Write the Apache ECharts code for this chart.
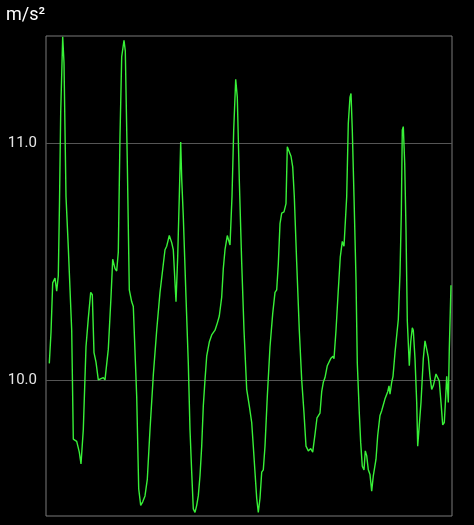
<!DOCTYPE html>
<html>
<head>
<meta charset="utf-8">
<style>
html,body{margin:0;padding:0;background:#000;}
#chart{width:474px;height:525px;}
</style>
<script src="https://cdn.jsdelivr.net/npm/echarts@6/dist/echarts.min.js"></script>
</head>
<body>
<div id="chart"></div>
<script>
// time offsets (arbitrary sample units) and acceleration magnitude (m/s²)
const time = [3.3,5,6.7,9,10.7,12.3,13.5,14.7,16.7,18,20,22.3,25.7,27.3,30.7,33.3,35,37.3,40,42.3,44.7,46.3,48,50,52.3,54,57.3,59,62.3,65,66.7,69,70.7,72.3,74,75.7,78,79.3,81.3,83.3,85.7,87.3,90.7,92.7,94.7,96.7,99,101.3,104,107.3,110.7,114,119,120.7,123.3,125.7,127.3,130,131.7,133.3,134.7,135.7,137.3,140,142.3,144,145.7,147.3,149,150.7,152.3,154,155.7,157.3,159,160.7,163.3,165.7,167.3,169,171.3,173.3,175.7,177.3,179,181.3,183,184,186,187.7,189.7,191.3,193.3,195.7,198,200.7,203.3,205.7,207.3,209,210.7,212.3,214,215.7,217.3,219,221.3,224,226.7,229,230.7,232.3,234,235.7,238,240,241.3,243,245,246.7,248.3,250.7,253.3,255.7,258,260,262.3,264.7,266.7,269,271,274,275.7,277.3,279,281.3,284.7,287,288,290,292.3,294.3,296.3,298,299.3,300.7,302.3,304,305,306.3,308,310,311.3,313.3,314.7,316.3,318,319.3,320.7,322.3,324,325.7,327.3,330,331.7,334,335.7,337,339,341.7,343,344,345.7,347,349,352.3,354,355.3,356.3,357.3,358.7,360,361.3,363.3,364.7,366.3,367.3,369,370.7,371.7,373.3,375,377.3,379,380.7,382.3,384,385.7,387.3,390,391.3,393.3,395,396.7,398.3,399.7,400.7,401.7,402.3,403.3,405];
const accel = [10.07,10.2,10.41,10.43,10.375,10.44,10.75,11.13,11.45,11.34,10.775,10.56,10.21,9.75,9.74,9.695,9.645,9.79,10.14,10.26,10.37,10.36,10.115,10.075,10.0,9.995,10.01,10.0,10.13,10.35,10.51,10.47,10.46,10.54,11.03,11.365,11.435,11.39,10.92,10.38,10.33,10.31,9.93,9.54,9.47,9.485,9.51,9.58,9.79,10.02,10.21,10.37,10.55,10.565,10.61,10.58,10.55,10.33,10.52,10.775,11.005,10.85,10.69,10.35,10.07,9.79,9.61,9.455,9.44,9.47,9.51,9.595,9.72,9.89,10.0,10.1,10.16,10.19,10.185,10.21,10.24,10.27,10.35,10.47,10.55,10.61,10.585,10.57,10.775,11.056,11.27,11.195,10.845,10.495,10.21,9.96,9.89,9.82,9.72,9.61,9.5,9.44,9.5,9.61,9.62,9.72,9.93,10.14,10.28,10.37,10.38,10.49,10.66,10.705,10.71,10.745,10.985,10.98,10.945,10.9,10.775,10.495,10.21,10.0,9.86,9.72,9.7,9.71,9.695,9.77,9.84,9.86,9.95,9.99,10.01,10.06,10.09,10.1,10.09,10.21,10.38,10.52,10.585,10.565,10.56,10.775,11.084,11.195,11.21,11.055,10.775,10.425,10.07,9.86,9.735,9.635,9.62,9.7,9.68,9.62,9.6,9.53,9.595,9.665,9.765,9.85,9.87,9.89,9.92,9.95,9.975,9.94,9.99,10.015,10.115,10.255,10.45,10.7,11.056,11.07,10.915,10.635,10.25,10.06,10.16,10.22,10.21,10.09,9.905,9.72,9.715,9.905,10.09,10.165,10.13,10.095,10.015,9.96,9.975,10.025,10.025,9.995,9.905,9.81,9.82,9.93,10.015,9.95,9.905,10.13,10.4,10.4];
const yTickValues = [10, 11];
const unitLabel = 'm/s²';

const chart = echarts.init(document.getElementById('chart'), null, {renderer: 'canvas'});
chart.setOption({
  backgroundColor: '#000',
  animation: false,
  title: {
    text: unitLabel,
    left: 6, top: 6, padding: 0,
    textStyle: {color: '#ffffff', fontSize: 18, fontWeight: 'normal', fontFamily: 'Roboto'}
  },
  grid: {
    left: 46, right: 22, top: 36, bottom: 9,
    show: true, borderColor: '#7a7a7a', borderWidth: 1, backgroundColor: 'transparent'
  },
  xAxis: {
    type: 'value', min: 0, max: 406,
    axisLine: {show: false}, axisTick: {show: false}, axisLabel: {show: false}, splitLine: {show: false}
  },
  yAxis: {
    type: 'value', min: 9.425, max: 11.453,
    axisLine: {show: false},
    axisTick: {show: false, customValues: yTickValues},
    axisLabel: {
      customValues: yTickValues,
      color: '#e6e6e6', fontSize: 15, fontFamily: 'Roboto', margin: 9,
      formatter: v => v.toFixed(1)
    },
    splitLine: {show: true, lineStyle: {color: '#555555', width: 1}}
  },
  series: [{
    type: 'line',
    data: time.map((t, i) => [t, accel[i]]),
    showSymbol: false,
    smooth: false,
    lineStyle: {color: '#38f038', width: 1.4},
    clip: true
  }]
});
</script>
</body>
</html>
